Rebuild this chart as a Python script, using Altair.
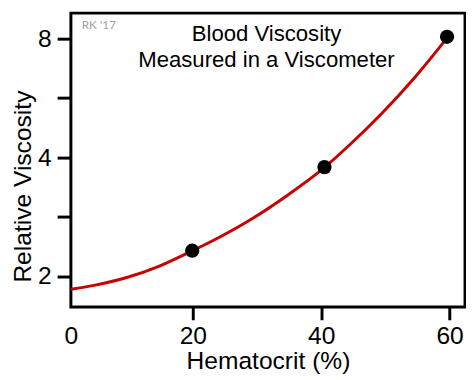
import altair as alt
import pandas as pd

# measured points
hematocrit_pts = [19.9, 40.5, 59.6]
viscosity_pts = [2.32, 3.78, 8.09]

# fitted curve
curve_x = [1.0, 4.6, 9.7, 14.8, 19.4, 24.5, 29.6, 34.7, 39.8, 44.4, 49.5, 54.6, 59.6]
curve_y = [1.853, 1.895, 1.984, 2.121, 2.297, 2.528, 2.821, 3.204, 3.691, 4.302, 5.187, 6.391, 8.033]

x_ticks = [1, 20, 40, 60]          # first tick sits at the axis start and is labelled "0"
x_tick_labels = ["0", "20", "40", "60"]
y_ticks = [2, 2.83, 4, 5.66, 8]
y_labelled = [2, 4, 8]

title_lines = ["Blood Viscosity", "Measured in a Viscometer"]
credit = "RK '17"

FONT = "Liberation Sans"
W, H = 401, 299

pts = pd.DataFrame({"h": hematocrit_pts, "v": viscosity_pts})
curve = pd.DataFrame({"h": curve_x, "v": curve_y})

xscale = alt.Scale(domain=[1, 62.4], nice=False, zero=False)
yscale = alt.Scale(type="log", base=2, domain=[1.67, 9.29], nice=False)

x_label_expr = "datum.value < 5 ? '" + x_tick_labels[0] + "' : datum.label"
y_label_expr = "indexof([" + ",".join(str(v) for v in y_labelled) + "], datum.value) >= 0 ? format(datum.value, 'd') : ''"

xaxis = alt.Axis(
    values=x_ticks, title="Hematocrit (%)", grid=False, domain=False,
    tickSize=13, tickWidth=3, tickColor="black",
    tickOpacity={"condition": {"test": "datum.value < 5", "value": 0}, "value": 1},
    labelExpr=x_label_expr,
    labelFont=FONT, labelFontSize=25, labelColor="black", labelPadding=4,
    labelFlush=False, labelOverlap=False,
    titleFont=FONT, titleFontSize=25, titleFontWeight="normal", titleColor="black",
    titlePadding=1,
)
yaxis = alt.Axis(
    values=y_ticks, title="Relative Viscosity", grid=False, domain=False,
    tickSize=14, tickWidth=3, tickColor="black",
    labelExpr=y_label_expr,
    labelFont=FONT, labelFontSize=25, labelColor="black", labelPadding=6,
    labelFlush=False, labelOverlap=False,
    titleFont=FONT, titleFontSize=25, titleFontWeight="normal", titleColor="black",
    titlePadding=2, titleY=176,
)

line = alt.Chart(curve).mark_line(color="#c80000", strokeWidth=3, clip=True, interpolate="monotone").encode(
    x=alt.X("h:Q", scale=xscale, axis=xaxis),
    y=alt.Y("v:Q", scale=yscale, axis=yaxis),
    order="h:Q",
)
dots = alt.Chart(pts).mark_circle(color="black", opacity=1, size=210).encode(
    x=alt.X("h:Q", scale=xscale),
    y=alt.Y("v:Q", scale=yscale),
)

t1 = alt.Chart(pd.DataFrame({"t": [title_lines[0]]})).mark_text(
    font=FONT, fontSize=22.5, color="black", align="center", baseline="alphabetic"
).encode(text="t:N", x=alt.value(199), y=alt.value(28))
t2 = alt.Chart(pd.DataFrame({"t": [title_lines[1]]})).mark_text(
    font=FONT, fontSize=22.5, color="black", align="center", baseline="alphabetic"
).encode(text="t:N", x=alt.value(199), y=alt.value(55))
t3 = alt.Chart(pd.DataFrame({"t": [credit]})).mark_text(
    font="Lato", fontSize=12, color="#a0a0a0", align="left", baseline="alphabetic"
).encode(text="t:N", x=alt.value(11), y=alt.value(16))

chart = alt.layer(line, dots, t1, t2, t3).properties(
    width=W, height=H,
    padding={"left": 3, "top": 2, "right": 1, "bottom": 0},
    background="white",
).configure_view(stroke="black", strokeWidth=3)

chart.save("out.html", embed_options={"renderer": "svg", "actions": False})
